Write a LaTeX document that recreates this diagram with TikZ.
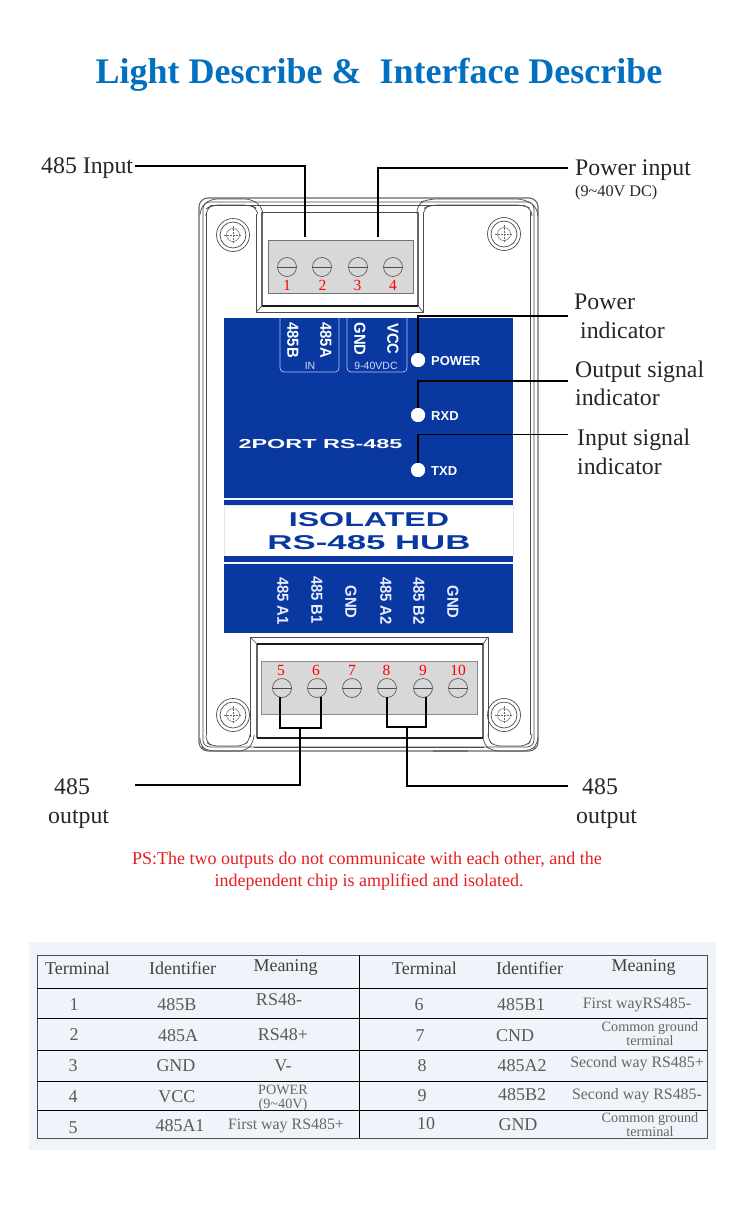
\documentclass[tikz,border=0pt]{standalone}
\usepackage{fontspec}
\setmainfont{Liberation Serif}
\newfontfamily\panelfont{Liberation Sans}
\definecolor{titleblue}{RGB}{0,112,192}
\definecolor{panelblue}{RGB}{8,56,160}
\definecolor{tablebg}{RGB}{238,244,249}
\definecolor{boxgray}{RGB}{216,216,216}
\definecolor{redtxt}{RGB}{230,30,30}
\tikzset{
  callout/.style={anchor=base west,inner sep=0pt,font=\fontsize{23.8}{24}\selectfont,text=black!85},
  wire/.style={draw=black,line width=1.1pt,line join=miter},
  caseline/.style={draw=black!70,line width=0.7pt},
  casethick/.style={draw=black!60,line width=1.1pt},
  darkedge/.style={draw=black!90,line width=1.3pt},
  redno/.style={inner sep=0pt,text=red,font=\fontsize{15.5}{16}\selectfont},
  screw/.style={circle,draw=black!70,line width=0.6pt,minimum size=19pt,inner sep=0pt,
     path picture={\draw[black!70,line width=0.6pt] (path picture bounding box.west)--(path picture bounding box.east);}},
  led/.style={circle,fill=white,minimum size=14pt,inner sep=0pt},
  vlab/.style={inner sep=0pt,text=white,rotate=-90,xscale=.93,font=\panelfont\bfseries\fontsize{16}{16}\selectfont},
  vsm/.style={inner sep=0pt,text=white!92!blue,rotate=-90,xscale=.93,font=\panelfont\bfseries\fontsize{16}{16}\selectfont},
  ledlab/.style={inner sep=0pt,anchor=west,text=white,font=\panelfont\bfseries\fontsize{13}{13}\selectfont},
  thd/.style={inner sep=0pt,text=black!75,font=\fontsize{18}{18}\selectfont},
  tcell/.style={inner sep=0pt,text=black!65,font=\fontsize{18}{18}\selectfont},
  tsm/.style={inner sep=0pt,text=black!60,font=\fontsize{15.9}{16}\selectfont},
  ttiny/.style={inner sep=0pt,text=black!60,align=center,font=\fontsize{14.2}{14}\selectfont},
  tline/.style={draw=black,line width=0.8pt},
  redline/.style={inner sep=0pt,text=redtxt,font=\fontsize{18}{18}\selectfont}
}
\newcommand{\mounthole}[2]{%
  \draw[caseline] (#1,#2) circle (16.5pt);
  \draw[caseline] (#1,#2) circle (13pt);
  \draw[black!60,line width=0.5pt] (#1,#2) circle (6.5pt);
  \draw[black!60,line width=0.5pt,dash pattern=on 2pt off 1pt] (#1-9,#2)--(#1+9,#2) (#1,#2-9)--(#1,#2+9);}
\begin{document}
\begin{tikzpicture}[x=1pt,y=-1pt]
\useasboundingbox[fill=white] (0,0) rectangle (750,1231);
\node[inner sep=0pt,text=titleblue,font=\bfseries\fontsize{36}{36}\selectfont] (title) at (379,75) {Light Describe \&\ \ Interface Describe};

% case
\draw[casethick,fill=white,rounded corners=9pt] (199,198) rectangle (538,751);
\draw[caseline,rounded corners=7pt] (203,202) rectangle (534,747);
\draw[caseline] (206,212)--(206,735) (530,212)--(530,735);
\draw[caseline] (212,205)--(525,205) (262,212)--(418,212);
\draw[caseline,rounded corners=7pt] (200,214)--(200,208)--(210,199)--(252,199)--(263,208)--(263,214);
\draw[caseline,rounded corners=7pt] (206,214)--(206,209)--(212,205)--(250,205)--(258,209)--(258,214);
\draw[caseline,rounded corners=8pt] (417,214)--(417,204)--(428,199)--(525,199)--(538,208)--(538,214);
\draw[caseline,rounded corners=7pt] (423,214)--(423,209)--(430,205)--(523,205)--(532,209)--(532,214);
\draw[caseline,rounded corners=7pt] (200,738)--(200,746)--(208,751)--(246,751)--(254,742)--(254,737);
\draw[caseline,rounded corners=6pt] (206,735)--(206,742)--(212,746)--(243,746)--(250,740)--(250,735);
\draw[caseline,rounded corners=7pt] (483,737)--(483,744)--(492,751)--(530,751)--(538,744)--(538,737);
\draw[caseline,rounded corners=6pt] (488,735)--(488,740)--(494,746)--(526,746)--(532,740)--(532,735);
\draw[caseline] (254,747)--(484,747);
\draw[black!55,line width=1.5pt] (433,751)--(468,751);

% top connector
\draw[caseline,fill=white] (256,214)--(256,312)--(423,312)--(423,214);
\draw[casethick] (262,212)--(262,306) (418,212)--(418,306);
\draw[darkedge] (262,306)--(418,306);
\draw[caseline] (256,312)--(262,306) (423,312)--(418,306);
\draw[caseline] (262,212)--(418,212);
\node[draw=black!55,line width=0.9pt,fill=boxgray,minimum width=145pt,minimum height=53pt,inner sep=0pt] (topblock) at (340.5,266.5) {};
\node[screw] (s1) at (287,267) {};
\node[screw] (s2) at (322,267) {};
\node[screw] (s3) at (358,267) {};
\node[screw] (s4) at (393,267) {};
\node[redno] (n1) at (287,285) {1};
\node[redno] (n2) at (322.5,285) {2};
\node[redno] (n3) at (357.5,285) {3};
\node[redno] (n4) at (393,285) {4};

% blue panel
\fill[panelblue] (224,318) rectangle (513,498);
\fill[panelblue] (224,499.8) rectangle (513,505.5);
\fill[white] (224,505.5) rectangle (513,556);
\draw[black!10,line width=0.5pt] (224,505.5) rectangle (513,556);
\fill[panelblue] (224,556) rectangle (513,562);
\fill[panelblue] (224,563.5) rectangle (513,633);
\draw[white!75!blue,line width=0.7pt,rounded corners=4pt] (280,318)--(280,372)--(339,372)--(339,318);
\draw[white!75!blue,line width=0.7pt,rounded corners=4pt] (347,318)--(347,372)--(407,372)--(407,318);
\node[vlab] (l485b) at (293,340) {485B};
\node[vlab] (l485a) at (326,340) {485A};
\node[vlab] (lgnd) at (360,339) {GND};
\node[vlab] (lvcc) at (393,339) {VCC};
\node[inner sep=0pt,text=white!85!blue,font=\panelfont\fontsize{10.5}{11}\selectfont] (lin) at (310,366) {IN};
\node[inner sep=0pt,text=white!85!blue,font=\panelfont\fontsize{10.5}{11}\selectfont] (lvdc) at (376,366) {9-40VDC};
\node[led] (power) at (418,360) {};
\node[led] (rxd) at (418,415) {};
\node[led] (txd) at (418,470) {};
\node[ledlab] (lpower) at (431,361) {POWER};
\node[ledlab] (lrxd) at (431,416) {RXD};
\node[ledlab] (ltxd) at (431,471) {TXD};
\node[inner sep=0pt,text=white,xscale=1.8,font=\panelfont\bfseries\fontsize{13}{13}\selectfont] (twoport) at (320.5,444) {2PORT RS-485};
\node[inner sep=0pt,text=panelblue,xscale=1.61,font=\panelfont\bfseries\fontsize{20}{20}\selectfont] (iso) at (369,519.5) {ISOLATED};
\node[inner sep=0pt,text=panelblue,xscale=1.74,font=\panelfont\bfseries\fontsize{20}{20}\selectfont] (hub) at (369,543) {RS-485 HUB};
\node[vsm] (a1) at (283,601) {485 A1};
\node[vsm] (b1) at (317,600) {485 B1};
\node[vsm] (g1) at (351,602) {GND};
\node[vsm] (a2) at (386,601) {485 A2};
\node[vsm] (b2) at (419,601) {485 B2};
\node[vsm] (g2) at (453,602) {GND};

% bottom connector
\draw[caseline] (250,737)--(250,637)--(488,637)--(488,737);
\draw[casethick] (257,738)--(257,644) (483,644)--(483,738);
\draw[darkedge] (257,644)--(483,644) (257,738)--(483,738);
\draw[caseline] (250,637)--(257,644) (488,637)--(483,644);
\node[draw=black!45,line width=0.7pt,fill=boxgray,minimum width=216pt,minimum height=53pt,inner sep=0pt] (botblock) at (369,687.5) {};
\node[screw] (s5) at (282,688) {};
\node[screw] (s6) at (317,688) {};
\node[screw] (s7) at (352,688) {};
\node[screw] (s8) at (387,688) {};
\node[screw] (s9) at (423,688) {};
\node[screw] (s10) at (458,688) {};
\node[redno] (n5) at (281,670) {5};
\node[redno] (n6) at (316,670) {6};
\node[redno] (n7) at (352,670) {7};
\node[redno] (n8) at (386.5,670) {8};
\node[redno] (n9) at (423,670) {9};
\node[redno] (n10) at (458,670) {10};

\mounthole{233}{235}
\mounthole{504}{234}
\mounthole{233}{715}
\mounthole{504}{715}

% callouts
\node[callout] (inp) at (41,173) {485 Input};
\node[callout] (pin) at (575,175) {Power input};
\node[callout,font=\fontsize{16.2}{16}\selectfont] (pv) at (575,196) {(9\textasciitilde40V DC)};
\node[callout] (pi1) at (574,309) {Power};
\node[callout] (pi2) at (580,338.5) {indicator};
\node[callout] (oi1) at (575,377) {Output signal};
\node[callout] (oi2) at (575,405) {indicator};
\node[callout] (ii1) at (577,445) {Input signal};
\node[callout] (ii2) at (577,474) {indicator};
\node[callout] (o1a) at (54,794) {485};
\node[callout] (o1b) at (48,823) {output};
\node[callout] (o2a) at (582,794) {485};
\node[callout] (o2b) at (576,823) {output};

\coordinate (c1s) at (135,166); \coordinate (c1e) at (305,237);
\coordinate (c2s) at (568,168); \coordinate (c2e) at (378,237);
\coordinate (c3s) at (568,316);
\coordinate (c4s) at (568,381);
\coordinate (c5s) at (568,434.5);
\coordinate (w5) at (280,697); \coordinate (w6) at (321,697);
\coordinate (w8) at (387,697); \coordinate (w9) at (426,697);
\coordinate (j1) at (300,728); \coordinate (j2) at (407,727);
\coordinate (c6s) at (135,785); \coordinate (c7s) at (568,786);
\draw[wire] (c1s)-|(c1e);
\draw[wire] (c2s)-|(c2e);
\draw[wire] (c3s)-|(power.center);
\draw[wire] (c4s)-|(rxd.center);
\draw[wire] (c5s)-|(txd.center);
\draw[wire] (w5)|-(j1)-|(w6);
\draw[wire] (w8)|-(j2)-|(w9);
\draw[wire] (j1)|-(c6s);
\draw[wire] (j2)|-(c7s);
\node[led] at (power) {}; \node[led] at (rxd) {}; \node[led] at (txd) {};

% PS
\node[redline] (ps1) at (367,860) {PS:The two outputs do not communicate with each other, and the};
\node[redline] (ps2) at (369,882) {independent chip is amplified and isolated.};

% table
\fill[tablebg] (29,942) rectangle (716,1150);
\draw[draw=black!70,line width=0.8pt] (37,955) rectangle (707,1138);
\draw[tline] (37,988)--(707,988) (37,1018)--(707,1018) (37,1050)--(707,1050) (37,1081)--(707,1081) (37,1110)--(707,1110);
\draw[tline] (359,955)--(359,1138);
\node[thd] (h1) at (77.5,968.5) {Terminal};
\node[thd] (h2) at (182.5,968.5) {Identifier};
\node[thd] (h3) at (285.5,967.5) {Meaning};
\node[thd] (h4) at (424.5,968.5) {Terminal};
\node[thd] (h5) at (529.5,968.5) {Identifier};
\node[thd] (h6) at (643.5,967.5) {Meaning};
\node[tcell] (a11) at (74,1005) {1};
\node[tcell] (a12) at (177,1005) {485B};
\node[tcell] (a13) at (279,1000) {RS48-};
\node[tcell] (a21) at (74,1035) {2};
\node[tcell] (a22) at (178,1036) {485A};
\node[tcell] (a23) at (283,1035) {RS48+};
\node[tcell] (a31) at (73,1066) {3};
\node[tcell] (a32) at (176,1066) {GND};
\node[tcell] (a33) at (283,1066) {V-};
\node[tcell] (a41) at (73,1097) {4};
\node[tcell] (a42) at (177,1097) {VCC};
\node[ttiny] (a43) at (283,1098) {POWER\\(9\textasciitilde40V)};
\node[tcell] (a51) at (73,1128) {5};
\node[tcell] (a52) at (180,1126) {485A1};
\node[tsm] (a53) at (286,1126) {First way RS485+};
\node[tcell] (b11) at (419,1005) {6};
\node[tcell] (b12) at (521,1005) {485B1};
\node[tsm] (b13) at (637,1005) {First wayRS485-};
\node[tcell] (b21) at (420,1036) {7};
\node[tcell] (b22) at (515,1036) {CND};
\node[ttiny] (b23) at (650,1034) {Common ground\\terminal};
\node[tcell] (b31) at (422,1066) {8};
\node[tcell] (b32) at (522,1066) {485A2};
\node[tsm] (b33) at (637,1064) {Second way RS485+};
\node[tcell] (b41) at (422,1096) {9};
\node[tcell] (b42) at (522,1095) {485B2};
\node[tsm] (b43) at (637,1096) {Second way RS485-};
\node[tcell] (b51) at (426,1124) {10};
\node[tcell] (b52) at (518,1125) {GND};
\node[ttiny] (b53) at (650,1125) {Common ground\\terminal};
\end{tikzpicture}
\end{document}
